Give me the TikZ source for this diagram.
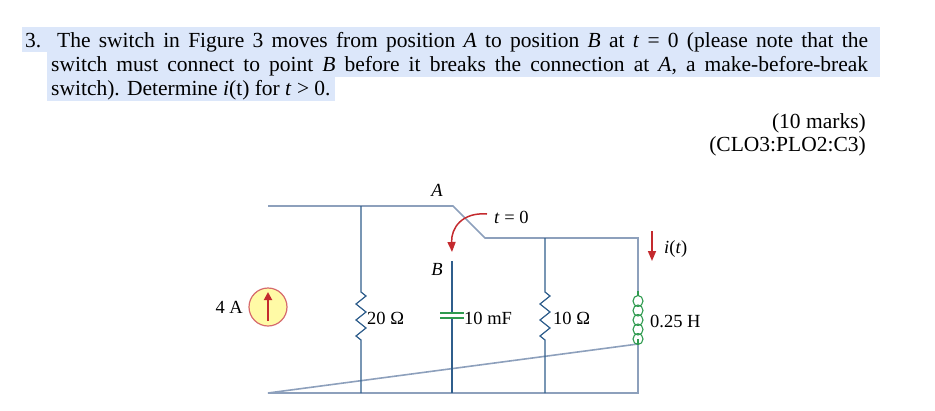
\documentclass[tikz,border=0pt]{standalone}
\usepackage{fontspec}
\setmainfont{Liberation Serif}
\usetikzlibrary{arrows.meta}
\definecolor{wire}{HTML}{8DA0BC}
\definecolor{wiredk}{HTML}{2F5E8C}
\definecolor{hl}{HTML}{DCE7FA}
\definecolor{redarr}{HTML}{C42A2E}
\definecolor{elgreen}{HTML}{2E9A4E}
\tikzset{
  txt/.style={anchor=base west, inner sep=0pt, font=\fontsize{21.5}{24}\selectfont},
  lbl/.style={inner sep=0pt, font=\fontsize{18.5}{22}\selectfont},
  wr/.style={draw=wire, line width=1.6pt},
  wrd/.style={draw=wiredk, line width=1.2pt},
}
\begin{document}
\begin{tikzpicture}[x=1pt, y=-1pt]
        \useasboundingbox (0,0) rectangle (935,410);
        % question
        \fill[hl] (22,27) rectangle (880,52);
        \fill[hl] (47,52) rectangle (880,77);
        \fill[hl] (47,77) rectangle (335,101);
        \node[txt] (q1) at (25,47) {\makebox[843pt][s]{3. The switch in Figure 3 moves from position \textit{A} to position \textit{B} at \textit{t} = 0 (please note that the}};
        \node[txt] (q2) at (51,71) {\makebox[817pt][s]{switch must connect to point \textit{B} before it breaks the connection at \textit{A}, a make-before-break}};
        \node[txt] (q3) at (51,95) {switch). Determine \textit{i}(t) for \textit{t} > 0.};
        \node[txt, anchor=base east] (marks) at (866,128) {(10 marks)};
        \node[txt, anchor=base east] (clo) at (866,151) {(CLO3:PLO2:C3)};
        % circuit corners
        \coordinate (tl) at (268,206);
        \coordinate (ta) at (453,206);
        \coordinate (sw) at (485,238);
        \coordinate (tr) at (638,238);
        \coordinate (bl) at (268,393);
        \coordinate (br) at (638,393);
        \coordinate (tb) at (452,261);
        % outer wires
        \draw[wr] (tl) -- (ta) -- (sw) -- (tr) -- (638,291) (638,344) -- (br) -- (bl) -- cycle;
        % 20 ohm
        \draw[wrd] (361,206) -- (361,292)
          -- (366,296) -- (356,304) -- (366,312) -- (356,320) -- (366,328) -- (356,336) -- (361,340)
          -- (361,393);
        % capacitor
        \draw[wrd] (tb) -- (452,313) (452,318) -- (452,393);
        \draw[elgreen, line width=1.1pt] (440,313) -- (464,313) (440,318) -- (464,318);
        % 10 ohm
        \draw[wrd] (545,238) -- (545,292)
          -- (550,296) -- (540,304) -- (550,312) -- (540,320) -- (550,328) -- (540,336) -- (545,340)
          -- (545,393);
        % inductor
        \draw[elgreen, line width=1.1pt] (638,291) -- (638,296);
        \foreach \k in {0,...,4}
          \draw[elgreen, line width=1.1pt] (638,{301+9.5*\k}) ellipse (5pt and 5.5pt);
        \draw[elgreen, line width=1.1pt] (638,339) -- (638,344);
        % source
        \node[circle, draw=redarr!70, fill=yellow!35, line width=1.2pt, minimum size=38pt, inner sep=0pt] (src) at (268,307) {};
        \draw[redarr, line width=1.8pt, -{Triangle[length=8pt,width=8pt]}] (268,321) -- (268,292);
        % arrows
        \draw[redarr, line width=1.5pt, -{Triangle[length=10pt,width=8pt]}] (487,214) .. controls (462,212) and (451,228) .. (452,252);
        \draw[redarr, line width=1.5pt, -{Triangle[length=10pt,width=8pt]}] (652,231) -- (652,261);
        % labels
        \node[lbl] (la) at (437,190) {\textit{A}};
        \node[lbl, anchor=west] (lt) at (494,217) {\textit{t} = 0};
        \node[lbl] (lb) at (437,269) {\textit{B}};
        \node[lbl, anchor=west] (li) at (664,249) {\textit{i}(\textit{t})};
        \node[lbl, anchor=east] (l4) at (243,307) {4 A};
        \node[lbl, anchor=west] (l20) at (367,318) {20 Ω};
        \node[lbl, anchor=west] (lc) at (464,318) {10 mF};
        \node[lbl, anchor=west] (l10) at (553,318) {10 Ω};
        \node[lbl, anchor=west] (ll) at (650,321) {0.25 H};
\end{tikzpicture}
\end{document}
